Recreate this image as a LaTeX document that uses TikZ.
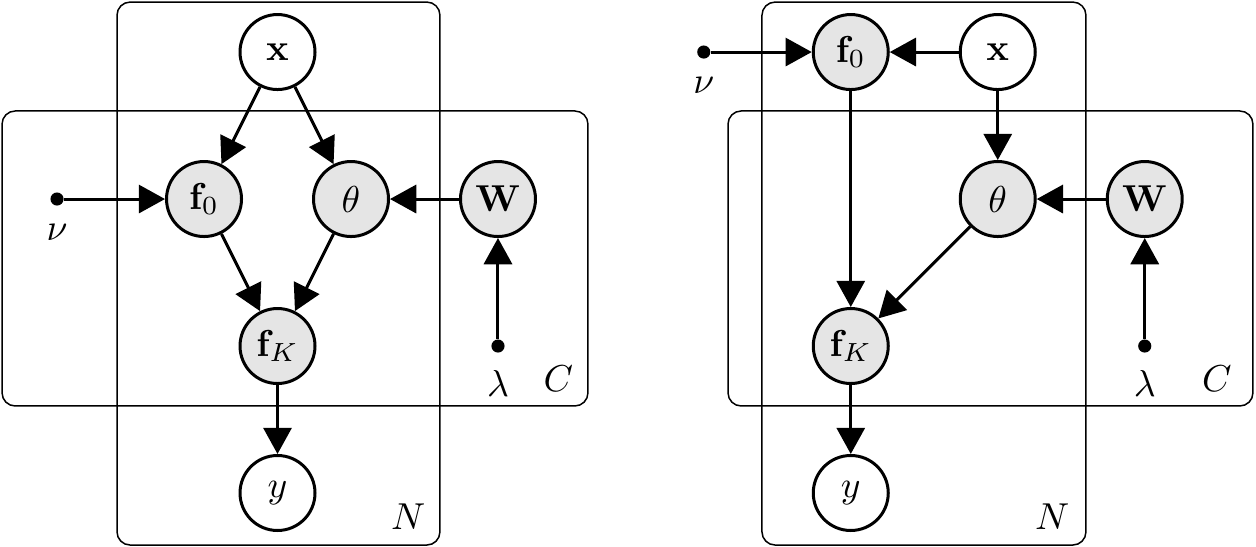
\documentclass[tikz,border=0pt]{standalone}
\usetikzlibrary{arrows.meta}
\begin{document}
\begin{tikzpicture}[x=39.2pt, y=39.2pt,
  latent/.style={circle, draw, thick, fill=white, minimum size=20pt, inner sep=1pt},
  obs/.style={latent, fill=gray!20},
  const/.style={circle, fill, inner sep=0pt, minimum size=3.5pt},
  constlabel/.style={inner sep=1pt, yshift=-3.5pt},
  edge/.style={thick, -{Triangle[length=7pt,width=7.5pt]}},
  plate/.style={draw, rounded corners=3.5pt}]
\useasboundingbox (-1.388,-2.367) rectangle (7.157,1.354);
% left model
\draw[plate] (-0.592,-2.354) rectangle (1.605,1.340);
\draw[plate] (-1.374,-1.408) rectangle (2.612,0.599);
\node[latent] (x) at (0.5,1) {$\mathbf{x}$};
\node[obs] (f0) at (0,0) {$\mathbf{f}_0$};
\node[obs] (theta) at (1,0) {$\theta$};
\node[obs] (W) at (2,0) {$\mathbf{W}$};
\node[obs] (fK) at (0.5,-1) {$\mathbf{f}_K$};
\node[latent] (y) at (0.5,-2) {$y$};
\node[const, label={[constlabel]below:$\nu$}] (nu) at (-1,0) {};
\node[const, label={[constlabel]below:$\lambda$}] (lambda) at (2,-1) {};
\node at (2.41,-1.22) {$C$};
\node at (1.39,-2.16) {$N$};
\draw[edge] (x) -- (f0);
\draw[edge] (x) -- (theta);
\draw[edge] (nu) -- (f0);
\draw[edge] (W) -- (theta);
\draw[edge] (lambda) -- (W);
\draw[edge] (f0) -- (fK);
\draw[edge] (theta) -- (fK);
\draw[edge] (fK) -- (y);
% right model
\draw[plate] (3.796,-2.354) rectangle (6.0,1.340);
\draw[plate] (3.565,-1.408) rectangle (7.136,0.599);
\node[obs] (f0b) at (4.4,1) {$\mathbf{f}_0$};
\node[latent] (xb) at (5.4,1) {$\mathbf{x}$};
\node[obs] (thetab) at (5.4,0) {$\theta$};
\node[obs] (Wb) at (6.4,0) {$\mathbf{W}$};
\node[obs] (fKb) at (4.4,-1) {$\mathbf{f}_K$};
\node[latent] (yb) at (4.4,-2) {$y$};
\node[const, label={[constlabel]below:$\nu$}] (nub) at (3.4,1) {};
\node[const, label={[constlabel]below:$\lambda$}] (lambdab) at (6.4,-1) {};
\node at (6.89,-1.22) {$C$};
\node at (5.77,-2.16) {$N$};
\draw[edge] (nub) -- (f0b);
\draw[edge] (xb) -- (f0b);
\draw[edge] (xb) -- (thetab);
\draw[edge] (Wb) -- (thetab);
\draw[edge] (lambdab) -- (Wb);
\draw[edge] (f0b) -- (fKb);
\draw[edge] (thetab) -- (fKb);
\draw[edge] (fKb) -- (yb);
\end{tikzpicture}
\end{document}
